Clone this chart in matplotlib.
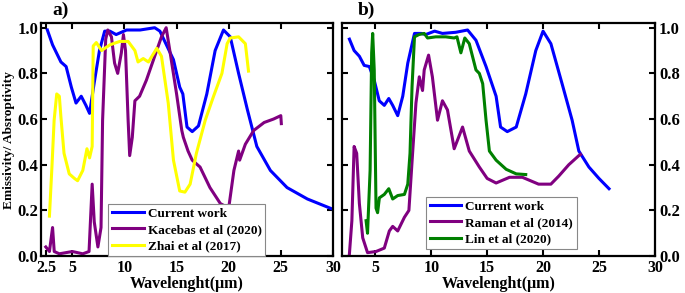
import numpy as np
import matplotlib.pyplot as plt

# panel a) curves
cur_a_x = [2.6, 3.1, 3.9, 4.4, 4.9, 5.35, 5.85, 6.3, 6.65, 7.1, 7.6, 8.1, 8.6, 9.2, 10.2, 11.5, 12.9, 13.4,
           14.7, 15.3, 15.6, 16.0, 16.5, 17.1, 17.9, 18.7, 19.5, 20.15, 20.95, 21.8, 22.7, 24.0, 25.6, 27.55, 30.0]
cur_a_y = [0.99, 0.925, 0.85, 0.83, 0.74, 0.67, 0.70, 0.66, 0.625, 0.76, 0.90, 0.985, 0.985, 0.97, 0.99, 0.99, 1.0, 0.985,
           0.86, 0.74, 0.71, 0.565, 0.545, 0.57, 0.71, 0.90, 0.99, 0.96, 0.80, 0.64, 0.48, 0.375, 0.30, 0.25, 0.205]

kac_x = [2.45, 2.8, 3.1, 3.26, 3.75, 5.0, 6.0, 6.6, 6.9, 7.1, 7.45, 7.75, 7.9, 8.2, 8.4, 8.75, 9.05, 9.35, 9.7, 9.9,
         10.1, 10.35, 10.5, 10.75, 11.0, 11.45, 12.1, 12.9, 13.55, 14.0, 14.35, 15.0, 15.5, 15.65, 16.1, 16.5, 17.25,
         18.2, 19.2, 20.0, 20.5, 20.95, 21.05, 21.6, 22.4, 23.4, 24.3, 25.0, 25.05]
kac_y = [0.04, 0.02, 0.125, 0.02, 0.01, 0.02, 0.01, 0.02, 0.315, 0.15, 0.04, 0.125, 0.595, 0.95, 0.99, 0.96, 0.845, 0.80,
         0.89, 0.97, 0.90, 0.595, 0.44, 0.52, 0.68, 0.70, 0.77, 0.875, 0.96, 1.0, 0.90, 0.71, 0.55, 0.52, 0.46, 0.42,
         0.39, 0.30, 0.23, 0.21, 0.375, 0.46, 0.42, 0.49, 0.55, 0.585, 0.60, 0.615, 0.58]

zhai_x = [2.8, 3.05, 3.25, 3.5, 3.75, 3.9, 4.2, 4.7, 5.2, 5.5, 6.0, 6.4, 6.65, 6.9, 7.0, 7.3, 7.8, 8.6, 9.55, 10.35,
          11.0, 11.3, 11.8, 12.3, 13.1, 13.55, 14.2, 14.7, 15.3, 15.8, 16.3, 16.9, 17.75, 18.55, 19.35, 19.85, 20.15,
          20.95, 21.6, 21.9]
zhai_y = [0.175, 0.40, 0.595, 0.71, 0.70, 0.61, 0.45, 0.36, 0.34, 0.33, 0.375, 0.47, 0.43, 0.48, 0.92, 0.935, 0.90,
          0.925, 0.94, 0.94, 0.90, 0.85, 0.865, 0.85, 0.91, 0.875, 0.67, 0.42, 0.285, 0.28, 0.315, 0.45, 0.595, 0.70,
          0.80, 0.93, 0.955, 0.96, 0.93, 0.81]

# panel b) curves
cur_b_x = [2.68, 3.1, 3.57, 4.0, 4.46, 4.9, 5.35, 5.8, 6.2, 6.55, 7.0, 7.45, 7.9, 8.5, 9.1, 9.5, 10.3, 11.0, 12.2,
           13.25, 14.0, 14.9, 15.8, 16.2, 16.8, 17.6, 18.45, 19.35, 20.0, 20.7, 21.7, 22.6, 23.2, 24.1, 25.0, 25.9]
cur_b_y = [0.95, 0.90, 0.875, 0.835, 0.83, 0.77, 0.68, 0.66, 0.69, 0.66, 0.615, 0.70, 0.845, 0.975, 0.975, 0.97, 0.985,
           0.975, 0.98, 0.99, 0.945, 0.83, 0.70, 0.565, 0.545, 0.565, 0.71, 0.90, 0.985, 0.93, 0.755, 0.595, 0.46, 0.39,
           0.34, 0.295]

raman_x = [2.68, 2.9, 3.1, 3.33, 3.57, 3.87, 4.3, 5.06, 5.8, 6.25, 6.55, 7.0, 7.6, 8.0, 8.33, 8.63, 8.93, 9.22, 9.37,
           9.76, 10.1, 10.56, 11.0, 11.45, 12.05, 12.8, 13.4, 14.3, 15.0, 15.8, 17.0, 18.15, 19.6, 20.7, 21.4, 22.3,
           23.2, 23.35]
raman_y = [0.01, 0.155, 0.48, 0.45, 0.23, 0.08, 0.015, 0.02, 0.035, 0.11, 0.13, 0.11, 0.17, 0.20, 0.45, 0.67, 0.785,
           0.725, 0.815, 0.88, 0.785, 0.595, 0.68, 0.64, 0.47, 0.565, 0.46, 0.39, 0.34, 0.32, 0.345, 0.345, 0.315,
           0.315, 0.35, 0.40, 0.44, 0.445]

lin_x = [4.17, 4.3, 4.53, 4.67, 4.76, 4.9, 5.06, 5.2, 5.36, 5.8, 6.2, 6.55, 7.0, 7.6, 7.9, 8.1, 8.28, 8.5, 8.9, 9.37,
         9.67, 10.4, 11.3, 12.05, 12.3, 12.65, 13.0, 13.4, 14.0, 14.3, 14.6, 14.9, 15.2, 15.8, 16.7, 17.6, 18.45]
lin_y = [0.155, 0.10, 0.375, 0.89, 0.975, 0.815, 0.21, 0.19, 0.255, 0.27, 0.295, 0.25, 0.265, 0.27, 0.315, 0.45, 0.74,
         0.96, 0.97, 0.975, 0.955, 0.96, 0.96, 0.955, 0.96, 0.89, 0.955, 0.93, 0.815, 0.80, 0.755, 0.595, 0.46, 0.42,
         0.38, 0.36, 0.357]

xticks_a = [2.5, 5, 10, 15, 20, 25, 30]
xticks_b = [5, 10, 15, 20, 25, 30]
yticks = [0.0, 0.2, 0.4, 0.6, 0.8, 1.0]

plt.rcParams['font.family'] = 'Liberation Serif'
plt.rcParams['font.weight'] = 'bold'

fig = plt.figure(figsize=(6.85, 2.93), dpi=100)
ax1 = fig.add_axes([0.060, 0.126, 0.426, 0.795])
ax2 = fig.add_axes([0.499, 0.126, 0.457, 0.795])

lw = 2.2
ax1.plot(cur_a_x, cur_a_y, color='#0000ff', lw=lw, label='Current work')
ax1.plot(kac_x, kac_y, color='#800080', lw=lw, label='Kacebas et al (2020)')
ax1.plot(zhai_x, zhai_y, color='#ffff00', lw=lw, label='Zhai et al (2017)')

ax2.plot(cur_b_x, cur_b_y, color='#0000ff', lw=lw, label='Current work')
ax2.plot(raman_x, raman_y, color='#800080', lw=lw, label='Raman et al (2014)')
ax2.plot(lin_x, lin_y, color='#008000', lw=lw, label='Lin et al (2020)')

for ax, xt in [(ax1, xticks_a), (ax2, xticks_b)]:
    ax.set_xlim(2, 30)
    ax.set_ylim(0, 1.02)
    ax.set_xticks(xt)
    ax.set_xticklabels([f'{t:g}' for t in xt])
    ax.set_yticks(yticks)
    ax.set_yticklabels([f'{t:.1f}' for t in yticks])
    ax.tick_params(direction='in', top=True, right=True, length=4, width=1.5, labelsize=12)
    ax.tick_params(axis='x', labelsize=11.5, pad=3)
    ax.tick_params(axis='y', pad=2)
    for s in ax.spines.values():
        s.set_linewidth(1.6)
    ax.set_xlabel('Wavelenght(\u03bcm)', fontsize=11.5, fontweight='bold', labelpad=0)

ax2.tick_params(labelleft=False, labelright=True)
ax2.tick_params(axis='y', pad=3)
ax1.set_ylabel('Emissivity/ Absroptivity', fontsize=9.6, fontweight='bold', labelpad=2)

leg_kw = dict(loc='lower left', fontsize=9.5, handlelength=2.4, handletextpad=0.3, labelspacing=0.3,
              borderaxespad=0, fancybox=False, framealpha=1, borderpad=0.3)
l1 = ax1.legend(bbox_to_anchor=(0.229, 0.0), **leg_kw)
l2 = ax2.legend(bbox_to_anchor=(0.268, 0.03), **leg_kw)
for lg in (l1, l2):
    lg.get_frame().set_edgecolor('#888888')
    lg.get_frame().set_linewidth(0.8)

fig.text(0.077, 0.965, 'a)', fontsize=14, fontweight='bold', va='center')
fig.text(0.522, 0.965, 'b)', fontsize=14, fontweight='bold', va='center')

fig.savefig('out.png', dpi=100)
